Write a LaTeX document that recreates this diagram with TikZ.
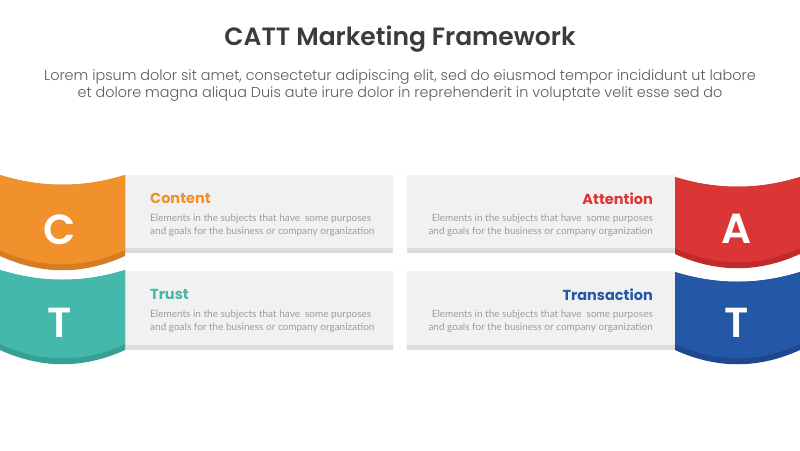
\documentclass[tikz,border=0pt]{standalone}
\usepackage{fontspec}
\setmainfont{Poppins}
\newfontfamily\popbold{Poppins Bold}
\newfontfamily\popsemi{Poppins SemiBold}
\newfontfamily\poplight{Poppins Light}
\newfontfamily\bodyfont{Lato}
\definecolor{cOr}{HTML}{F0912C}
\definecolor{cOrD}{HTML}{D87C22}
\definecolor{cTe}{HTML}{45B8AC}
\definecolor{cTeD}{HTML}{37A095}
\definecolor{cRe}{HTML}{DB3535}
\definecolor{cReD}{HTML}{BF2A2A}
\definecolor{cBl}{HTML}{2458A7}
\definecolor{cBlD}{HTML}{1D4890}
\definecolor{boxg}{HTML}{F1F1F1}
\definecolor{boxs}{HTML}{DCDCDC}
\definecolor{titg}{HTML}{3B3B3B}
\definecolor{subg}{HTML}{5A5A5A}
\definecolor{bodyg}{HTML}{9C9C9C}
\tikzset{
  x=1pt, y=-1pt,
  letter/.style={text=white, font=\popsemi\fontsize{42}{42}\selectfont, inner sep=0pt},
  head/.style={font=\popbold\fontsize{14.5}{16}\selectfont, inner sep=0pt},
  body/.style={font=\bodyfont\fontsize{10}{13}\selectfont, text=bodyg, inner sep=0pt},
}
% ribbon: #1 x-left, #2 width, #3 top y, #4 bottom y, #5 colour, #6 dark colour
\newcommand\ribbonpiece[6]{%
  \fill[#6] (#1,#3) .. controls ({#1+#2/3},{#3+13}) and ({#1+2*#2/3},{#3+13}) .. ({#1+#2},#3)
     -- ({#1+#2},#4) .. controls ({#1+2*#2/3},{#4+19}) and ({#1+#2/3},{#4+19}) .. (#1,#4) -- cycle;
  \fill[#5] (#1,#3) .. controls ({#1+#2/3},{#3+13}) and ({#1+2*#2/3},{#3+13}) .. ({#1+#2},#3)
     -- ({#1+#2},{#4-6}) .. controls ({#1+2*#2/3},{#4+13}) and ({#1+#2/3},{#4+13}) .. (#1,{#4-6}) -- cycle;
}
\newcommand\graybox[4]{%
  \fill[boxg] (#1,#3) rectangle (#2,#4);
  \fill[boxs] (#1,{#4-5}) rectangle (#2,#4);
}
\begin{document}
\begin{tikzpicture}
\useasboundingbox (0,0) rectangle (800,450);
\fill[white] (0,0) rectangle (800,450);
% title
\node[font=\popsemi\fontsize{25}{28}\selectfont, text=titg, inner sep=0pt] (title) at (400,39.5) {CATT Marketing Framework};
\node[font=\poplight\fontsize{14.4}{17}\selectfont, text=subg, align=center, inner sep=0pt] (sub) at (400,85.5)
  {Lorem ipsum dolor sit amet, consectetur adipiscing elit, sed do eiusmod tempor incididunt ut labore\\
   et dolore magna aliqua Duis aute irure dolor in reprehenderit in voluptate velit esse sed do};
% gray boxes
\graybox{125}{393}{175}{253}
\graybox{125}{393}{271}{350}
\graybox{407}{675}{175}{253}
\graybox{407}{675}{271}{350}
% ribbons
\ribbonpiece{0}{125}{175}{256}{cOr}{cOrD}
\ribbonpiece{0}{125}{270}{350}{cTe}{cTeD}
\ribbonpiece{675}{125}{177}{254}{cRe}{cReD}
\ribbonpiece{675}{125}{272}{350}{cBl}{cBlD}
% letters
\node[letter] (lc) at (60,230) {C};
\node[letter] (lt1) at (60,323) {T};
\node[letter] (la) at (737,229) {A};
\node[letter] (lt2) at (737,323) {T};
% headings
\node[head, text=cOr, anchor=west] (h1) at (150,198.5) {Content};
\node[head, text=cTe, anchor=west] (h2) at (150,294.5) {Trust};
\node[head, text=cRe, anchor=east] (h3) at (653,198.5) {Attention};
\node[head, text=cBl, anchor=east] (h4) at (653,294.5) {Transaction};
% body
\node[body, align=left, anchor=north west] (b1) at (150,213.5) {Elements in the subjects that have\ \ some purposes\\and goals for the business or company organization};
\node[body, align=left, anchor=north west] (b2) at (150,309.5) {Elements in the subjects that have\ \ some purposes\\and goals for the business or company organization};
\node[body, align=right, anchor=north east] (b3) at (653,213.5) {Elements in the subjects that have\ \ some purposes\\and goals for the business or company organization};
\node[body, align=right, anchor=north east] (b4) at (653,309.5) {Elements in the subjects that have\ \ some purposes\\and goals for the business or company organization};
\end{tikzpicture}
\end{document}
